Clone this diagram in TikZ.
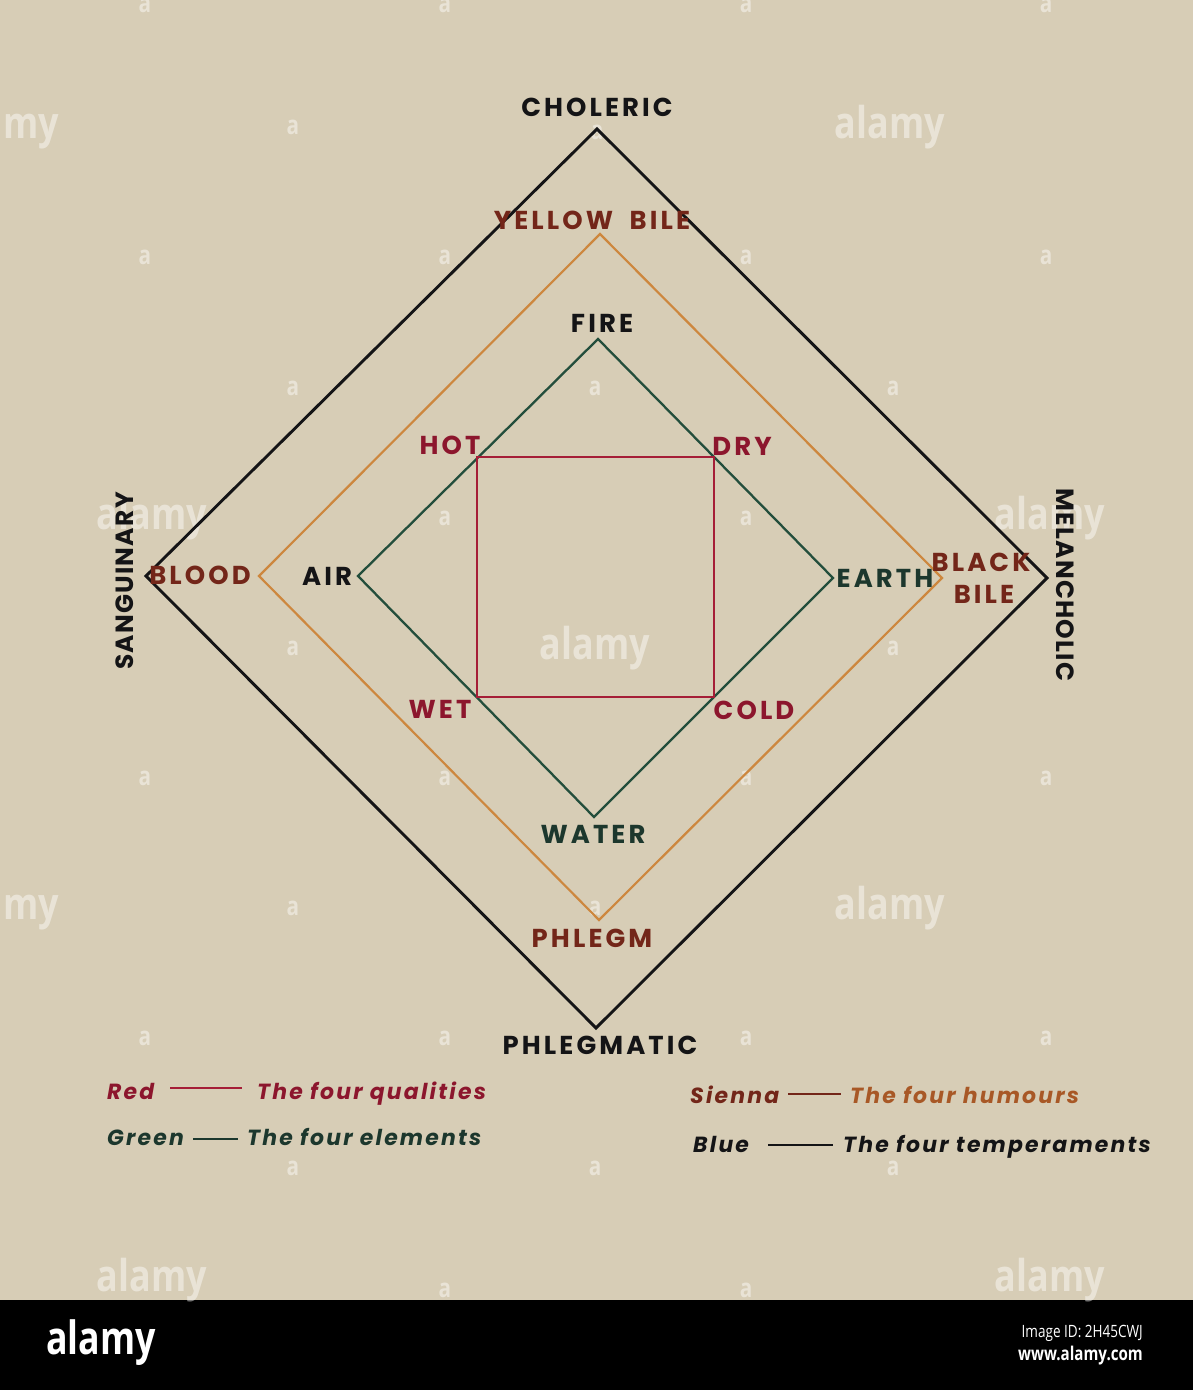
\documentclass[tikz,border=0pt]{standalone}
\usepackage{fontspec}
\setmainfont{Poppins}
\newfontfamily\capf[LetterSpace=12]{Poppins}
\newfontfamily\vcapf[LetterSpace=5]{Poppins}
\newfontfamily\legf[LetterSpace=10]{Poppins}
\newfontfamily\wmf{Open Sans}
\definecolor{paper}{RGB}{215,205,182}
\definecolor{inkblack}{RGB}{20,20,22}
\definecolor{siennaline}{RGB}{205,135,62}
\definecolor{greenline}{RGB}{35,78,60}
\definecolor{redline}{RGB}{165,30,55}
\definecolor{redtext}{RGB}{140,22,45}
\definecolor{browntext}{RGB}{115,38,25}
\definecolor{greentext}{RGB}{28,55,45}
\definecolor{siennatext}{RGB}{168,88,38}
\begin{document}
\begin{tikzpicture}[x=1bp,y=-1bp,
  lab/.style={font=\capf\bfseries\fontsize{26}{28}\selectfont, inner sep=0pt},
  vlab/.style={font=\vcapf\bfseries\fontsize{25}{27}\selectfont, inner sep=0pt},
  leg/.style={font=\legf\bfseries\itshape\fontsize{22}{24}\selectfont, inner sep=0pt, anchor=base west},
  wmbig/.style={font=\wmf\bfseries\fontsize{44}{46}\selectfont, text=white, opacity=0.45, xscale=0.82, inner sep=0pt},
  wmsmall/.style={font=\wmf\bfseries\fontsize{26}{28}\selectfont, text=white, opacity=0.45, xscale=0.8, inner sep=0pt},
  temper/.style={draw=inkblack, line width=2.9pt, line join=miter},
  humour/.style={draw=siennaline, line width=2.2pt, line join=miter},
  element/.style={draw=greenline, line width=2.3pt, line join=miter},
  quality/.style={draw=redline, line width=2.4pt, line join=miter},
  legdash/.style={line width=2.6pt}
]
\useasboundingbox (0,0) rectangle (1193,1390);
\fill[paper] (0,0) rectangle (1193,1300);
\fill[black] (0,1300) rectangle (1193,1390);

% watermarks
\foreach \x/\y [count=\i] in {145/5,445/5,746/5,1046/5,
  293/127,597/132,
  145/257,445/257,746/257,1046/257,
  293/388,595/388,893/388,
  445/518,746/518,
  293/648,893/648,
  145/778,445/778,746/778,1046/778,
  293/908,595/908,
  145/1038,445/1038,746/1038,1046/1038,
  293/1168,595/1168,893/1168,
  445/1290,746/1290}
  \node[wmsmall, name=wa\i] at (\x,\y) {a};
\foreach \x/\y [count=\i] in {4/127,890/127,1248/127,152/518,1050/518,595/648,4/908,890/908,1248/908,152/1280,1050/1280}
  \node[wmbig, name=wb\i] at (\x,\y) {alamy};

% vertices
\coordinate (Tt) at (597,129); \coordinate (Tl) at (146,576);
\coordinate (Tr) at (1047,578); \coordinate (Tb) at (596,1028);
\coordinate (Ht) at (600,234); \coordinate (Hl) at (259,576);
\coordinate (Hr) at (942,578); \coordinate (Hb) at (599,920);
\coordinate (Et) at (598,339); \coordinate (El) at (358,576);
\coordinate (Er) at (833,578); \coordinate (Eb) at (594,817);
\coordinate (Q1) at (477,457); \coordinate (Q2) at (714,457);
\coordinate (Q3) at (714,697); \coordinate (Q4) at (477,697);

\draw[temper] (Tt) -- (Tr) -- (Tb) -- (Tl) -- cycle;
\draw[humour] (Ht) -- (Hr) -- (Hb) -- (Hl) -- cycle;
\draw[element] (Et) -- (Er) -- (Eb) -- (El) -- cycle;
\draw[quality] (Q1) -- (Q2) -- (Q3) -- (Q4) -- cycle;

% labels
\node[lab, text=inkblack] (choleric) at (597,107) {CHOLERIC};
\node[lab, text=browntext] (yellowbile) at (592,220) {YELLOW\hspace{8bp} BILE};
\node[lab, text=inkblack] (fire) at (602,323) {FIRE};
\node[lab, text=redtext] (hot) at (450,445) {HOT};
\node[lab, text=redtext] (dry) at (742,446) {DRY};
\node[lab, text=inkblack] (air) at (327,576) {AIR};
\node[lab, text=browntext] (blood) at (200,575) {BLOOD};
\node[vlab, text=inkblack, rotate=90] (sanguinary) at (125,581) {SANGUINARY};
\node[lab, text=greentext] (earth) at (885,578) {EARTH};
\node[lab, text=browntext] (black) at (981,562) {BLACK};
\node[lab, text=browntext] (bile) at (984,594) {BILE};
\node[vlab, text=inkblack, rotate=-90] (melancholic) at (1065,585) {MELANCHOLIC};
\node[lab, text=redtext] (wet) at (440,709) {WET};
\node[lab, text=redtext] (cold) at (754,710) {COLD};
\node[lab, text=greentext] (water) at (593,834) {WATER};
\node[lab, text=browntext] (phlegm) at (592,938) {PHLEGM};
\node[lab, text=inkblack] (phlegmatic) at (600,1045) {PHLEGMATIC};

% legend
\node[leg, text=redtext] (lred) at (107,1099) {Red};
\coordinate (dr1) at (170,1088); \coordinate (dr2) at (242,1088);
\draw[legdash, redline] (dr1) -- (dr2);
\node[leg, text=redtext] (lredt) at (257,1099) {The four qualities};

\node[leg, text=greentext] (lgreen) at (107,1145) {Green};
\coordinate (dg1) at (193,1139); \coordinate (dg2) at (238,1139);
\draw[legdash, greentext] (dg1) -- (dg2);
\node[leg, text=greentext] (lgreent) at (247,1145) {The four elements};

\node[leg, text=browntext] (lsienna) at (690,1103) {Sienna};
\coordinate (ds1) at (788,1094); \coordinate (ds2) at (841,1094);
\draw[legdash, browntext] (ds1) -- (ds2);
\node[leg, text=siennatext] (lsiennat) at (850,1103) {The four humours};

\node[leg, text=inkblack] (lblue) at (693,1152) {Blue};
\coordinate (db1) at (768,1145); \coordinate (db2) at (833,1145);
\draw[legdash, inkblack] (db1) -- (db2);
\node[leg, text=inkblack] (lbluet) at (843,1152) {The four temperaments};

% bottom strip
\node[font=\wmf\bfseries\fontsize{46}{48}\selectfont, text=white, xscale=0.78, inner sep=0pt] (logo) at (101,1343) {alamy};
\node[font=\wmf\fontsize{17}{19}\selectfont, text=white, xscale=0.8, inner sep=0pt, anchor=east] (imgid) at (1143,1333) {Image ID: 2H45CWJ};
\node[font=\wmf\bfseries\fontsize{19}{21}\selectfont, text=white, xscale=0.8, inner sep=0pt, anchor=east] (www) at (1143,1356) {www.alamy.com};
\end{tikzpicture}
\end{document}
